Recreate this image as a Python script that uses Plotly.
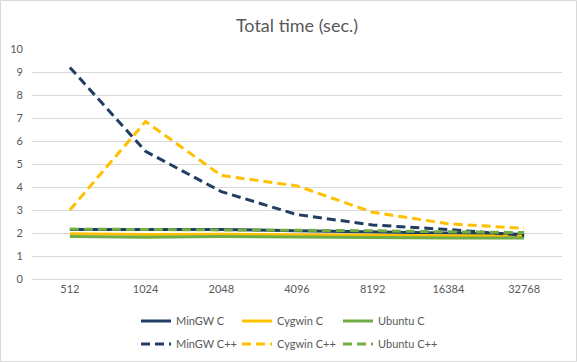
import plotly.graph_objects as go

categories = ["512", "1024", "2048", "4096", "8192", "16384", "32768"]
mingw_c = [2.15, 2.15, 2.15, 2.1, 2.05, 2.0, 1.95]
cygwin_c = [1.97, 1.93, 1.95, 1.92, 1.9, 1.88, 1.87]
ubuntu_c = [1.85, 1.82, 1.85, 1.82, 1.8, 1.78, 1.78]
mingw_cpp = [9.2, 5.55, 3.8, 2.8, 2.35, 2.15, 1.9]
cygwin_cpp = [3.0, 6.85, 4.5, 4.05, 2.9, 2.4, 2.2]
ubuntu_cpp = [2.17, 2.15, 2.15, 2.12, 2.1, 2.05, 2.02]
y_ticks = list(range(0, 11))

NAVY = "#213E62"
GOLD = "#FFC000"
GREEN = "#70AD47"
FONT = "Lato"

series = [
    ("MinGW C", mingw_c, NAVY, "solid", "legend"),
    ("Cygwin C", cygwin_c, GOLD, "solid", "legend"),
    ("Ubuntu C", ubuntu_c, GREEN, "solid", "legend"),
    ("MinGW C++", mingw_cpp, NAVY, "9px,5px", "legend2"),
    ("Cygwin C++", cygwin_cpp, GOLD, "9px,5px", "legend2"),
    ("Ubuntu C++", ubuntu_cpp, GREEN, "9px,5px", "legend2"),
]

fig = go.Figure()
for name, vals, color, dash, leg in series:
    fig.add_trace(go.Scatter(
        x=categories, y=vals, name=name, mode="lines",
        line=dict(color=color, width=3, dash=dash),
        legend=leg,
    ))

W, H = 577, 362
ml, mr, mt, mb = 32, 15, 49, 83
pw, ph = W - ml - mr, H - mt - mb

legend_common = dict(
    orientation="h", xanchor="left", yanchor="middle",
    font=dict(family=FONT, size=11, color="#595959"),
    bgcolor="rgba(0,0,0,0)", entrywidth=56, entrywidthmode="pixels",
    itemwidth=30, tracegroupgap=0,
)

fig.update_layout(
    width=W, height=H,
    margin=dict(l=ml, r=mr, t=mt, b=mb, autoexpand=False),
    paper_bgcolor="white", plot_bgcolor="white",
    title=dict(text="Total time (sec.)", x=0.5, xref="paper", xanchor="center",
               y=1 - 26 / H, yref="container", yanchor="middle",
               font=dict(family=FONT, size=18, color="#595959")),
    xaxis=dict(type="category", showgrid=False, showline=True,
               linecolor="#D9D9D9", linewidth=1, ticks="",
               tickfont=dict(family=FONT, size=11, color="#595959"),
               range=[-0.5, 6.5], fixedrange=True),
    yaxis=dict(range=[0, 10], tickvals=y_ticks, showgrid=True,
               gridcolor="#D9D9D9", gridwidth=1, zeroline=False,
               tickfont=dict(family=FONT, size=11, color="#595959"),
               ticklabelstandoff=8),
    legend=dict(x=(136 - ml) / pw, y=(H - mb - 321) / ph, **legend_common),
    legend2=dict(x=(136 - ml) / pw, y=(H - mb - 344) / ph, **legend_common),
    showlegend=True,
)

fig.add_shape(type="rect", xref="paper", yref="paper",
              x0=(-ml + 0.5) / pw, x1=(pw + mr - 0.5) / pw,
              y0=(-mb + 0.5) / ph, y1=(ph + mt - 0.5) / ph,
              line=dict(color="#D9D9D9", width=1), layer="below")

fig.write_html("out.html", config={"displayModeBar": False},
               post_script="document.body.style.margin='0';")
